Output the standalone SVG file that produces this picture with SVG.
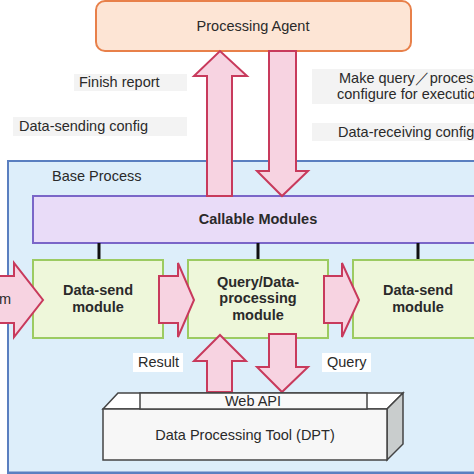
<svg xmlns="http://www.w3.org/2000/svg" width="474" height="474" viewBox="0 0 474 474">
<style>
text{font-family:"Liberation Sans",Arial,sans-serif;font-size:14.5px;fill:#2a2a2a}
.b{font-weight:bold}
.arr{fill:#f7d3e1;stroke:#c83a5c;stroke-width:2;stroke-linejoin:miter}
.mod{fill:#eef7da;stroke:#9ccb62;stroke-width:2}
.lbg{fill:#f3f3f3}
.wbg{fill:#ffffff}
.conn{stroke:#111;stroke-width:3}
</style>
<rect width="474" height="474" fill="#ffffff"/>
<g id="base-process">
<rect x="8" y="161" width="480" height="312" fill="#ddeefa" stroke="#5a7fc0" stroke-width="2"/>
<line x1="8" y1="473" x2="474" y2="473" stroke="#5a7fc0" stroke-width="3"/>
<text x="52" y="181">Base Process</text>
</g>
<g id="processing-agent">
<rect x="96" y="1" width="315" height="50" rx="9" fill="#fde5d5" stroke="#e8804a" stroke-width="2"/>
<text x="253" y="31" text-anchor="middle">Processing Agent</text>
</g>
<g id="labels-top">
<rect class="lbg" x="74" y="74" width="113" height="17"/>
<text x="79" y="87">Finish report</text>
<rect class="lbg" x="13" y="117" width="174" height="19"/>
<text x="19" y="131">Data-sending config</text>
<rect class="lbg" x="312" y="69" width="170" height="35"/>
<text x="339" y="83">Make query／process</text>
<text x="337" y="99">configure for execution</text>
<rect class="lbg" x="312" y="123" width="170" height="18"/>
<text x="338" y="137">Data-receiving config</text>
</g>
<g id="callable-modules">
<rect x="33" y="196" width="460" height="47" fill="#e9dcf8" stroke="#7a66c8" stroke-width="2"/>
<text class="b" x="258" y="224" text-anchor="middle">Callable Modules</text>
</g>
<g id="connectors">
<line class="conn" x1="99" y1="243" x2="99" y2="260"/>
<line class="conn" x1="258" y1="243" x2="258" y2="260"/>
<line class="conn" x1="418" y1="243" x2="418" y2="260"/>
<polygon class="arr" points="207,196 207,76 194,76 220,51 247,76 232,76 232,196"/>
<polygon class="arr" points="269,51 296,51 296,171 308,171 282,196 257,171 269,171"/>
</g>
<g id="data-send-module-1">
<rect class="mod" x="33" y="260" width="130" height="78"/>
<text class="b" x="98" y="295" text-anchor="middle">Data-send</text>
<text class="b" x="98" y="312" text-anchor="middle">module</text>
</g>
<g id="query-data-processing-module">
<rect class="mod" x="188" y="260" width="140" height="78"/>
<text class="b" x="258" y="287" text-anchor="middle">Query/Data-</text>
<text class="b" x="258" y="303" text-anchor="middle">processing</text>
<text class="b" x="258" y="320" text-anchor="middle">module</text>
</g>
<g id="data-send-module-2">
<rect class="mod" x="353" y="260" width="140" height="78"/>
<text class="b" x="418" y="295" text-anchor="middle">Data-send</text>
<text class="b" x="418" y="312" text-anchor="middle">module</text>
</g>
<g id="flow-arrows">
<polygon class="arr" points="-5,276 14,276 14,263 43,300 14,337 14,323 -5,323"/>
<text x="-1" y="304">m</text>
<polygon class="arr" points="159,276 178,276 178,263 194,300 178,337 178,323 159,323"/>
<polygon class="arr" points="324,276 342,276 342,263 359,300 342,337 342,323 324,323"/>
<polygon class="arr" points="207,392 207,361 194,361 220,335 246,361 232,361 232,392"/>
<polygon class="arr" points="269,334 296,334 296,367 308,367 282,392 257,367 269,367"/>
<rect class="wbg" x="133" y="353" width="50" height="19"/>
<text x="138" y="367">Result</text>
<rect class="wbg" x="322" y="353" width="49" height="19"/>
<text x="327" y="367">Query</text>
</g>
<g id="dpt">
<polygon points="103,409 118,393 403,393 387,409" fill="#ffffff" stroke="#444" stroke-width="1.5"/>
<polygon points="387,409 403,393 403,444 387,460" fill="#c9cdcd" stroke="#444" stroke-width="1.5"/>
<rect x="103" y="409" width="284" height="51" fill="#f7f7f7" stroke="#444" stroke-width="1.5"/>
<rect x="140" y="393" width="227" height="16" fill="#f9f9f9" stroke="#444" stroke-width="1.5"/>
<text x="253" y="406" text-anchor="middle">Web API</text>
<text x="245" y="440" text-anchor="middle">Data Processing Tool (DPT)</text>
</g>
</svg>
